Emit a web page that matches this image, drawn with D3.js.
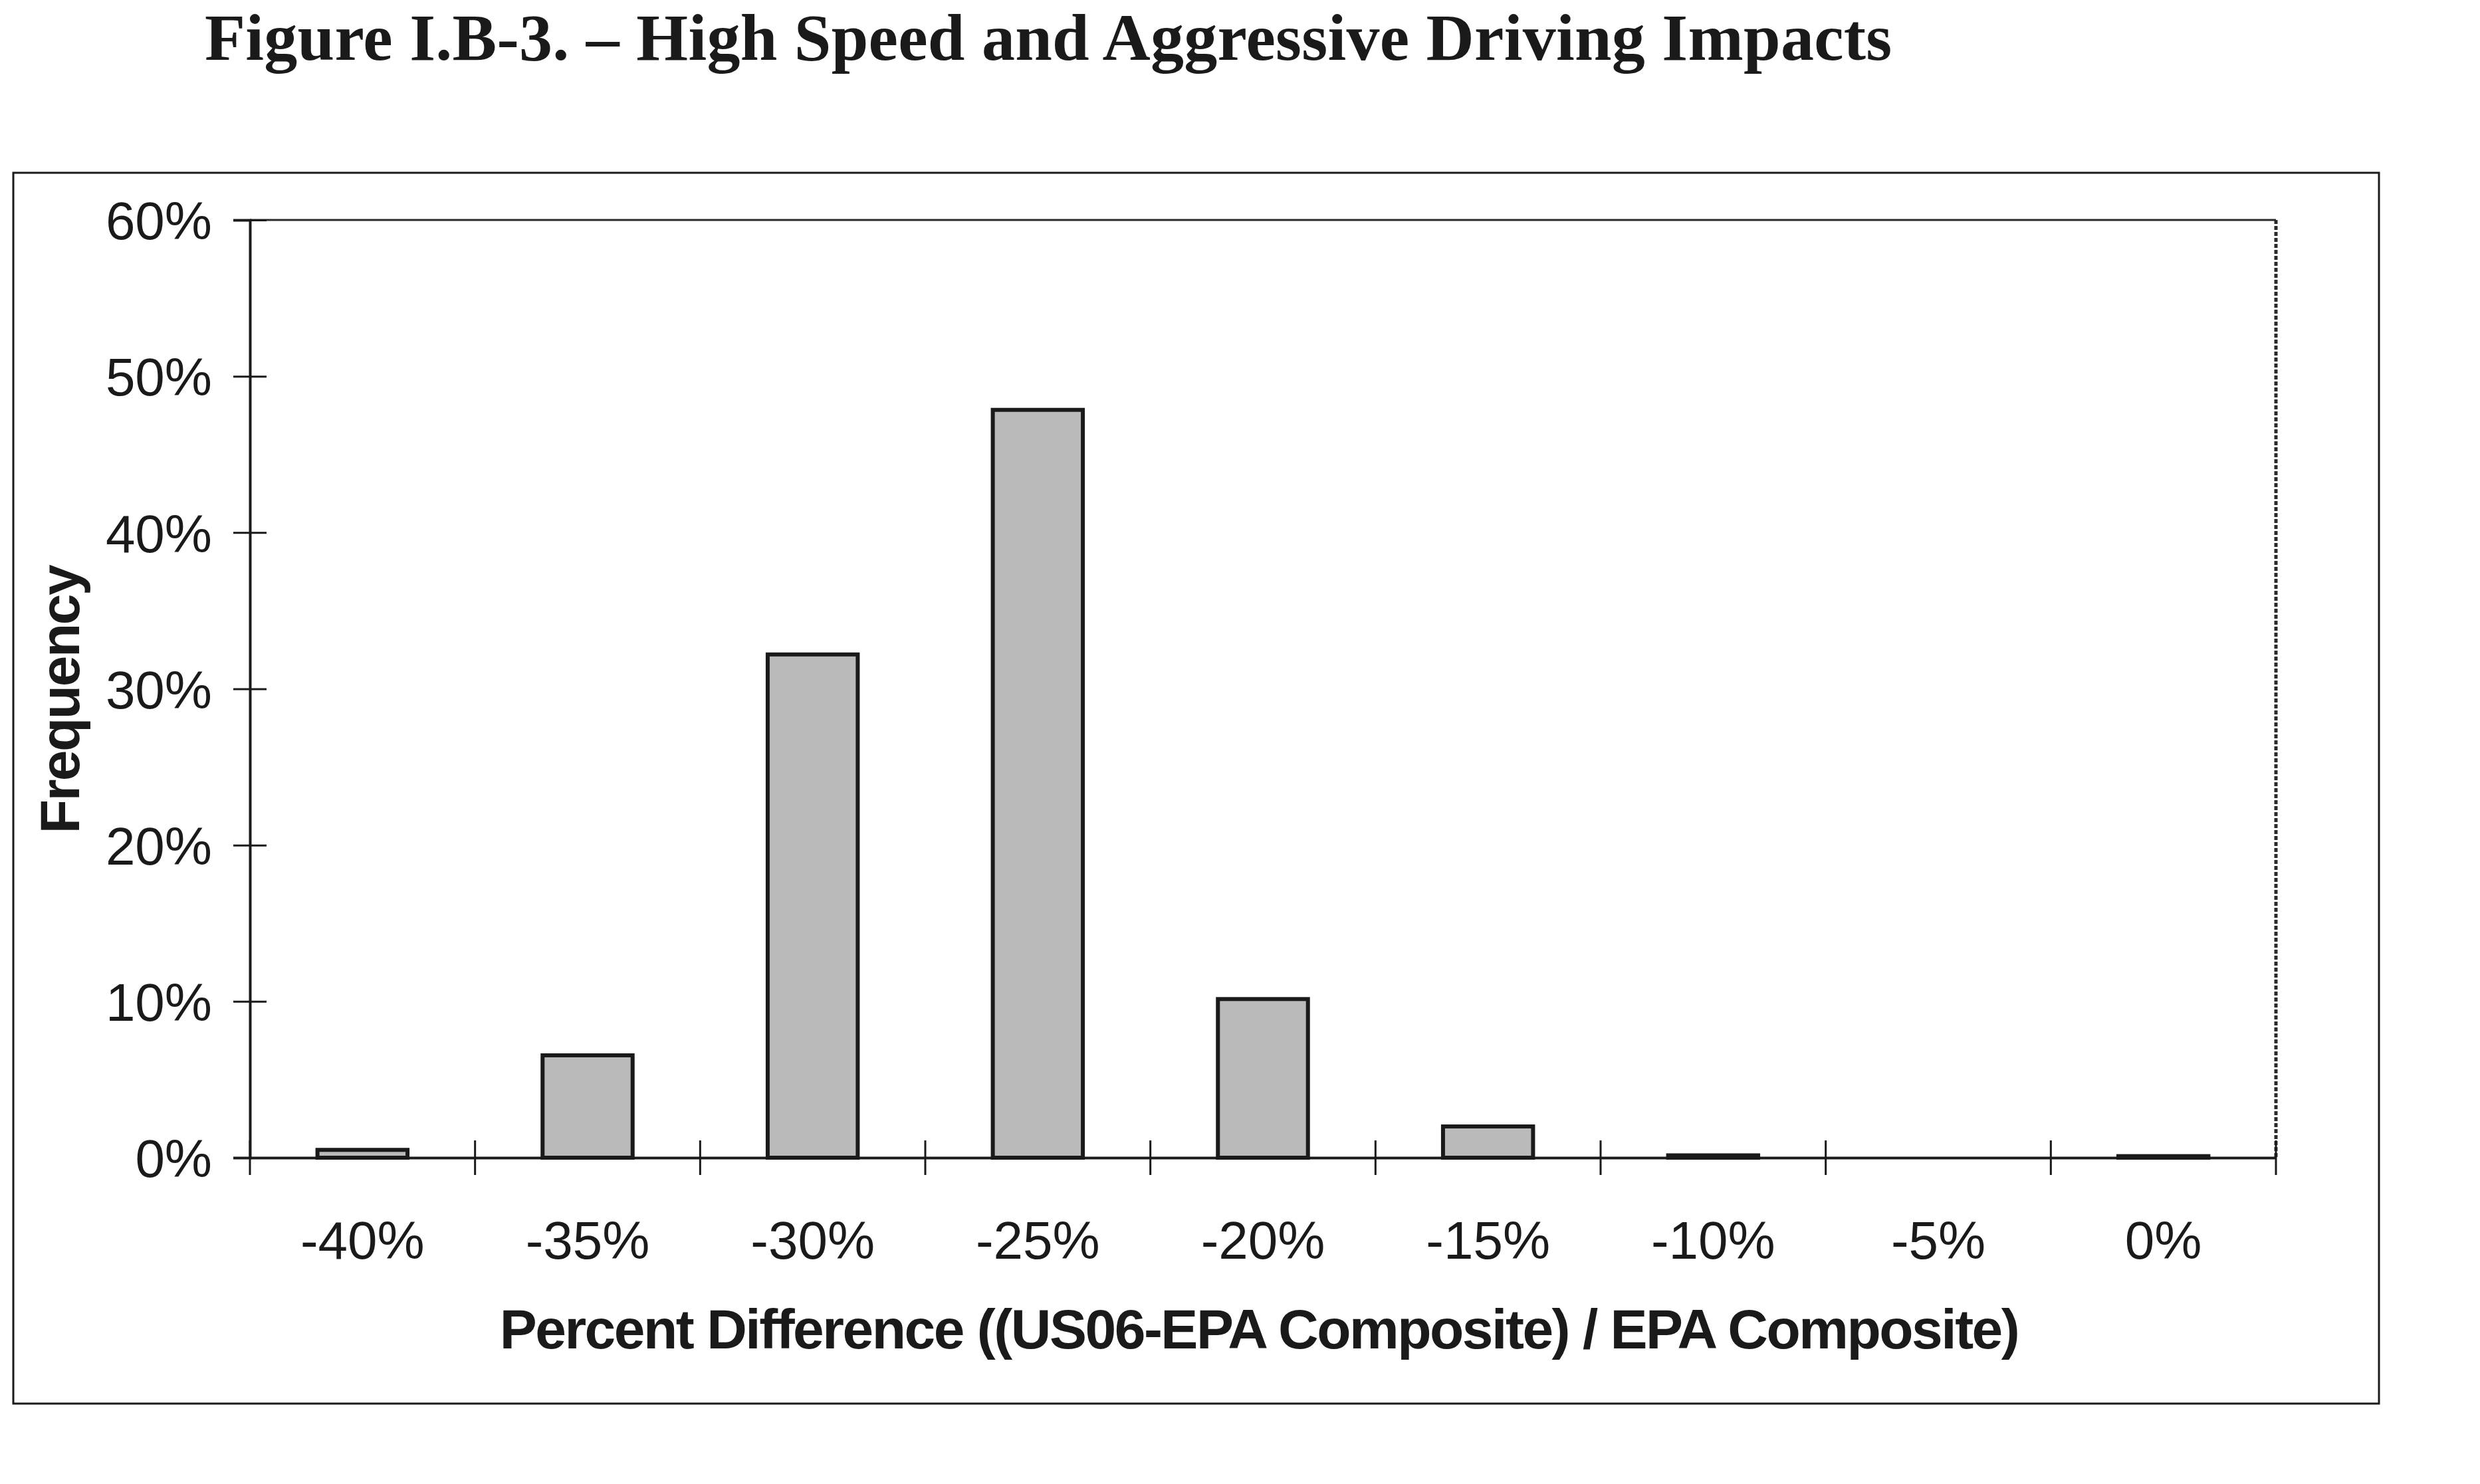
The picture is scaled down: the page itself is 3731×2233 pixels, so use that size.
<!DOCTYPE html>
<html>
<head>
<meta charset="utf-8">
<script src="https://cdn.jsdelivr.net/npm/d3@7"></script>
<style>
  body { margin: 0; background: #fff; }
  svg { display: block; }
  text { fill: #1a1a1a; }
</style>
</head>
<body>
<svg id="chart"></svg>
<script>
// data
var categories = ['-40%', '-35%', '-30%', '-25%', '-20%', '-15%', '-10%', '-5%', '0%'];
var frequency = [0.005, 0.0655, 0.322, 0.4785, 0.1015, 0.020, 0.0015, 0, 0.001];
var yTicks = [0, 0.1, 0.2, 0.3, 0.4, 0.5, 0.6];

var width = 3731;
var height = 2233;

var plot = { left: 376, right: 3424, top: 331, bottom: 1742 };

var svg = d3.select('#chart')
    .attr('width', width)
    .attr('height', height);

svg.append('rect')
    .attr('width', width)
    .attr('height', height)
    .attr('fill', '#fff');

// title
svg.append('text')
    .attr('x', 308)
    .attr('y', 90)
    .style('font-family', '"Liberation Serif", "Times New Roman", serif')
    .style('font-weight', 'bold')
    .style('font-size', '100px')
    .style('letter-spacing', '0.25px')
    .text('Figure I.B-3. \u2013 High Speed and Aggressive Driving Impacts');

// chart frame
svg.append('rect')
    .attr('x', 20)
    .attr('y', 260)
    .attr('width', 3559)
    .attr('height', 1852)
    .attr('fill', 'none')
    .attr('stroke', '#1a1a1a')
    .attr('stroke-width', 3);

var x = d3.scaleBand()
    .domain(categories)
    .range([plot.left, plot.right])
    .paddingInner(0.6)
    .paddingOuter(0.3);

var y = d3.scaleLinear()
    .domain([0, 0.6])
    .range([plot.bottom, plot.top]);

// plot area border (top and right)
svg.append('line')
    .attr('x1', plot.left).attr('x2', plot.right)
    .attr('y1', plot.top).attr('y2', plot.top)
    .attr('stroke', '#2a2a2a').attr('stroke-width', 3);
svg.append('line')
    .attr('x1', plot.right).attr('x2', plot.right)
    .attr('y1', plot.top).attr('y2', plot.bottom)
    .attr('stroke', '#2a2a2a').attr('stroke-width', 5)
    .attr('stroke-dasharray', '6,3');

// bars
svg.append('g')
    .selectAll('rect')
    .data(categories)
    .enter()
    .append('rect')
    .attr('x', d => x(d))
    .attr('width', x.bandwidth())
    .attr('y', (d, i) => y(frequency[i]))
    .attr('height', (d, i) => y(0) - y(frequency[i]))
    .attr('fill', '#bababa')
    .attr('stroke', '#1a1a1a')
    .attr('stroke-width', 6)
    .style('display', (d, i) => frequency[i] > 0 ? null : 'none');

// y axis
var yAxis = svg.append('g')
    .attr('transform', `translate(${plot.left},0)`)
    .call(d3.axisLeft(y).tickValues(yTicks).tickFormat(d3.format('.0%')).tickSize(25).tickPadding(32));

yAxis.select('.domain')
    .attr('stroke', '#1a1a1a')
    .attr('stroke-width', 4);
yAxis.selectAll('.tick line')
    .attr('x1', -25).attr('x2', 25)
    .attr('stroke', '#1a1a1a')
    .attr('stroke-width', 3);
yAxis.selectAll('.tick text')
    .style('font-family', '"Liberation Sans", Arial, sans-serif')
    .style('font-size', '80px')
    .attr('dy', '0.36em');

// x axis: labels centred under bars, ticks on category boundaries
var xAxis = svg.append('g')
    .attr('transform', `translate(0,${plot.bottom})`)
    .call(d3.axisBottom(x).tickSize(0).tickPadding(95));

xAxis.select('.domain')
    .attr('stroke', '#1a1a1a')
    .attr('stroke-width', 4);
xAxis.selectAll('.tick text')
    .style('font-family', '"Liberation Sans", Arial, sans-serif')
    .style('font-size', '80px');

var boundaries = d3.range(categories.length + 1).map(i => plot.left + i * x.step());
xAxis.selectAll('line.bound')
    .data(boundaries)
    .enter()
    .append('line')
    .attr('class', 'bound')
    .attr('x1', d => d).attr('x2', d => d)
    .attr('y1', -26).attr('y2', 26)
    .attr('stroke', '#1a1a1a')
    .attr('stroke-width', 3);

// axis titles
svg.append('text')
    .attr('x', (plot.left + plot.right) / 2 - 6)
    .attr('y', 2029)
    .attr('text-anchor', 'middle')
    .style('font-family', '"Liberation Sans", Arial, sans-serif')
    .style('font-weight', 'bold')
    .style('font-size', '84px')
    .style('letter-spacing', '-2.5px')
    .text('Percent Difference ((US06-EPA Composite) / EPA Composite)');

svg.append('text')
    .attr('transform', 'translate(119,1053) rotate(-90)')
    .attr('text-anchor', 'middle')
    .style('font-family', '"Liberation Sans", Arial, sans-serif')
    .style('font-weight', 'bold')
    .style('font-size', '84px')
    .style('letter-spacing', '-2.5px')
    .text('Frequency');
</script>
</body>
</html>
